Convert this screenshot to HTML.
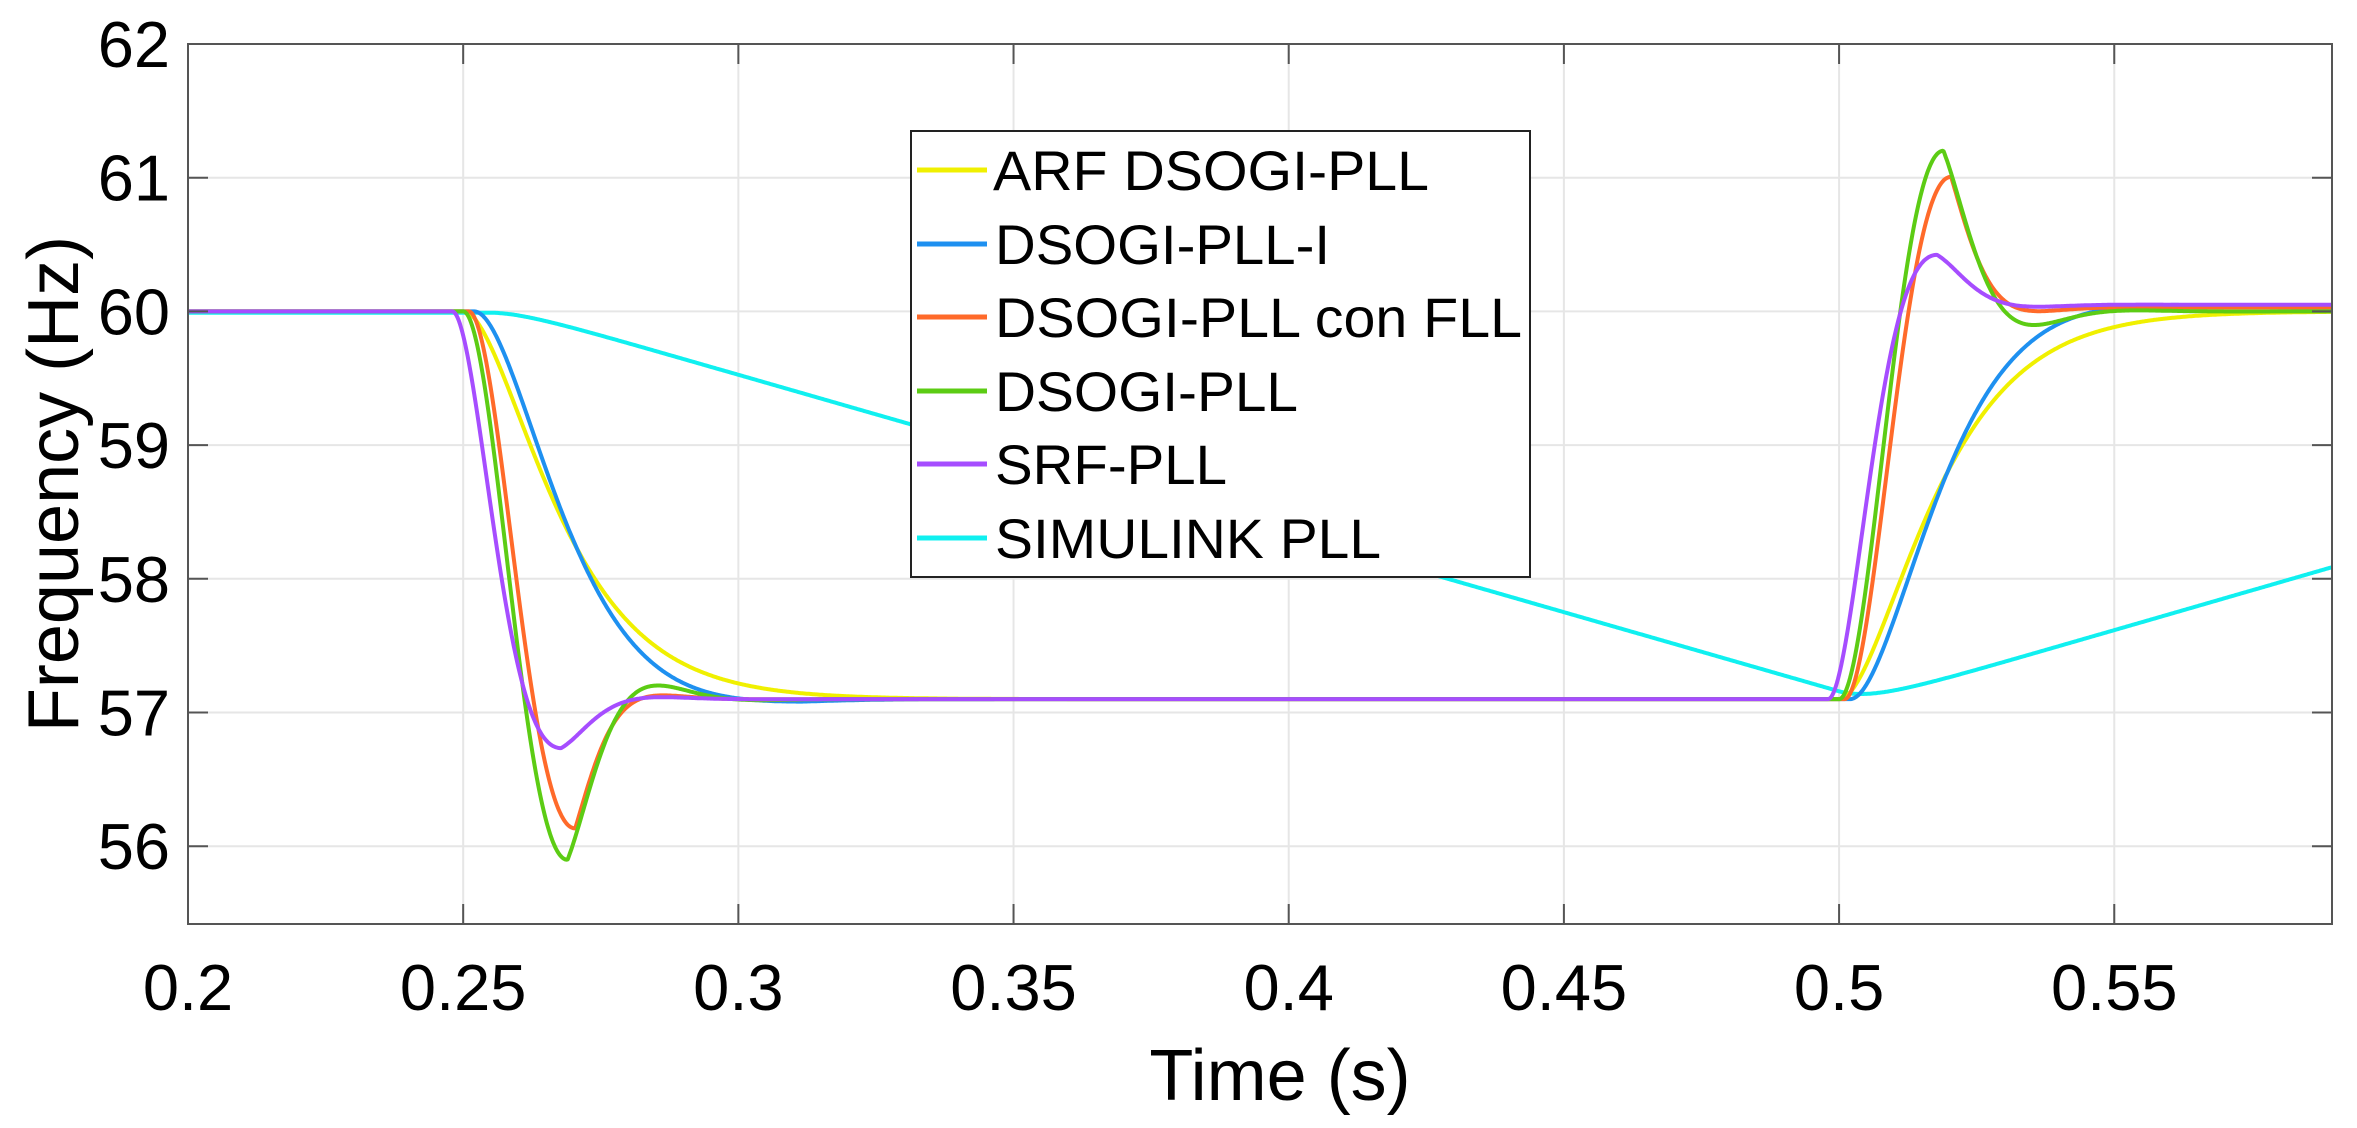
<!DOCTYPE html>
<html><head><meta charset="utf-8"><style>
html,body{margin:0;padding:0;background:#fff;}
svg{display:block;font-family:"Liberation Sans",Arial,sans-serif;}
</style></head><body>
<svg id="s" width="2357" height="1128" viewBox="0 0 2357 1128" xmlns="http://www.w3.org/2000/svg">
<rect width="2357" height="1128" fill="#fff"/>
<g id="grid" stroke="#e6e6e6" stroke-width="2"></g>
<g id="curves" fill="none" stroke-width="4" stroke-linejoin="round"></g>
<rect x="188" y="44" width="2144" height="880" fill="none" stroke="#555" stroke-width="2"/>
<g id="ticks" stroke="#555" stroke-width="2"></g>
<g id="labels" font-size="65" fill="#000"></g>
<text x="1280" y="1100" font-size="72" text-anchor="middle">Time (s)</text>
<text transform="translate(78,484) rotate(-90)" font-size="72" text-anchor="middle">Frequency (Hz)</text>
<g>
<rect x="911" y="131" width="619" height="446" fill="#fff" stroke="#222" stroke-width="2"/>
<g stroke-width="5">
<line x1="917" x2="987" y1="170" y2="170" stroke="#f0f000"/>
<line x1="917" x2="987" y1="244" y2="244" stroke="#1e90f0"/>
<line x1="917" x2="987" y1="317" y2="317" stroke="#ff6a2a"/>
<line x1="917" x2="987" y1="391" y2="391" stroke="#5ccc14"/>
<line x1="917" x2="987" y1="464" y2="464" stroke="#a64dff"/>
<line x1="917" x2="987" y1="538" y2="538" stroke="#10f0f0"/>
</g>
<g font-size="56" fill="#000">
<text x="993" y="190" textLength="436" lengthAdjust="spacingAndGlyphs">ARF DSOGI-PLL</text>
<text x="995" y="264" textLength="335" lengthAdjust="spacingAndGlyphs">DSOGI-PLL-I</text>
<text x="995" y="337" textLength="527" lengthAdjust="spacingAndGlyphs">DSOGI-PLL con FLL</text>
<text x="995" y="411" textLength="303" lengthAdjust="spacingAndGlyphs">DSOGI-PLL</text>
<text x="995" y="484" textLength="232" lengthAdjust="spacingAndGlyphs">SRF-PLL</text>
<text x="995" y="558" textLength="386" lengthAdjust="spacingAndGlyphs">SIMULINK PLL</text>
</g>
</g>
<script>
var NS="http://www.w3.org/2000/svg";
function px(t){return 188+(t-0.2)*5503.6;}
function py(f){return 44+(62-f)*133.7;}
var grid=document.getElementById('grid'),ticks=document.getElementById('ticks'),lab=document.getElementById('labels');
function el(p,n,a,txt){var e=document.createElementNS(NS,n);for(var k in a)e.setAttribute(k,a[k]);if(txt)e.textContent=txt;p.appendChild(e);return e;}
var xt=[0.2,0.25,0.3,0.35,0.4,0.45,0.5,0.55];
xt.forEach(function(t){var x=px(t);
 if(t>0.2){el(grid,'line',{x1:x,x2:x,y1:44,y2:924});}
 el(ticks,'line',{x1:x,x2:x,y1:924,y2:904});el(ticks,'line',{x1:x,x2:x,y1:44,y2:64});
 el(lab,'text',{x:x,y:1010,'text-anchor':'middle'},String(t));});
for(var f=56;f<=62;f++){var y=py(f);
 if(f<62)el(grid,'line',{x1:188,x2:2332,y1:y,y2:y});
 el(ticks,'line',{x1:188,x2:208,y1:y,y2:y});el(ticks,'line',{x1:2332,x2:2312,y1:y,y2:y});
 el(lab,'text',{x:170,y:y+23,'text-anchor':'end'},String(f));}
function step2(t,wn,z,k){ if(t<=0)return 0;
 if(z>=1){var w=wn;return 1-(1+w*t)*Math.exp(-w*t);}
 var wd=wn*Math.sqrt(1-z*z);var phi=Math.acos(z);var tp=Math.PI/wd;
 var extra=t>tp?Math.exp(-k*(t-tp)):1;
 return 1-extra*Math.exp(-z*wn*t)/Math.sqrt(1-z*z)*Math.sin(wd*t+phi);}
function mk(wn,z,d,fin,k){return function(t){return 60-2.9*step2(t-0.25-d,wn,z,k)+(2.9+fin)*step2(t-0.5-d,wn,z,k);};}
var series=[
 ["#f0f000",mk(100,1,0.0,0.0,0)],
 ["#1e90f0",mk(100,0.85,0.002,0.03,60)],
 ["#ff6a2a",mk(172,0.33,0.001,0.03,140)],
 ["#5ccc14",mk(172,0.27,0.0,0.0,90)],
 ["#a64dff",mk(190,0.55,-0.002,0.05,60)]
];
function cyanT(t){ if(t<0.255)return 60; if(t<0.5)return 60-2.9*(t-0.255)/0.245; return 57.1+11.9*(t-0.5);}
var cy=[],cf=60,dt=0.0002,tau=0.006;
for(var t=0.2;t<=0.5897;t+=dt){cf+=(cyanT(t)-cf)*dt/tau;cy.push([t,cf]);}
var cg=document.getElementById('curves');
function path(pts,c){var d='';pts.forEach(function(p,i){d+=(i?'L':'M')+px(p[0]).toFixed(1)+' '+py(p[1]).toFixed(1);});el(cg,'path',{d:d,stroke:c});}
path(cy.map(function(p){return [p[0],p[1]-0.01];}),"#10f0f0");
series.forEach(function(s){var pts=[];for(var t=0.2;t<=0.5897;t+=0.0002)pts.push([t,s[1](t)]);path(pts,s[0]);});
</script>
</svg>
</body></html>
